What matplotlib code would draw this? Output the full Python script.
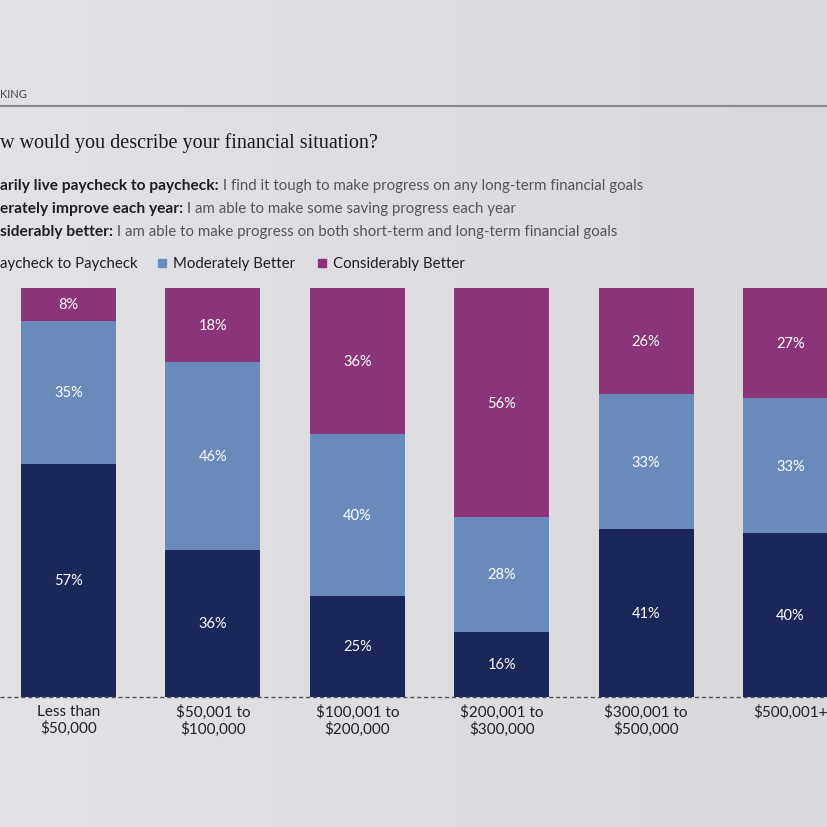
import matplotlib
matplotlib.use("Agg")
import matplotlib.pyplot as plt
import numpy as np
from matplotlib import font_manager as fm
from matplotlib.colors import LinearSegmentedColormap

# ---------------- data ----------------
categories = ["Less than\n$50,000", "$50,001 to\n$100,000", "$100,001 to\n$200,000",
              "$200,001 to\n$300,000", "$300,001 to\n$500,000", "$500,001+\n"]
series_names = ["Paycheck to Paycheck", "Moderately Better", "Considerably Better"]
paycheck = [57, 36, 25, 16, 41, 40]
moderately = [35, 46, 40, 28, 33, 33]
considerably = [8, 18, 36, 56, 26, 27]
colors = ["#1b2758", "#6a8bba", "#8c3479"]

title = "w would you describe your financial situation?"
kicker = "KING"
desc_bold = ["arily live paycheck to paycheck:", "erately improve each year:", "siderably better:"]
desc_text = [" I find it tough to make progress on any long-term financial goals",
             " I am able to make some saving progress each year",
             " I am able to make progress on both short-term and long-term financial goals"]
legend_first = "aycheck to Paycheck"

# ---------------- fonts ----------------
names = {f.name for f in fm.fontManager.ttflist}
narrow = "Liberation Sans Narrow" if "Liberation Sans Narrow" in names else "Lato"
sans = "Lato" if "Lato" in names else "DejaVu Sans"
serif = "Liberation Serif"

W = H = 828
fig = plt.figure(figsize=(8.28, 8.28), dpi=100)

# background gradient
bg = fig.add_axes([0, 0, 1, 1], zorder=-10)
grad = np.tile(np.linspace(0, 1, 200), (10, 1))
cmap = LinearSegmentedColormap.from_list("bg", ["#e2e2e6", "#d8d8dd"])
bg.imshow(grad, aspect="auto", cmap=cmap, extent=[0, 1, 0, 1])
bg.set_axis_off()

def fy(py):
    return 1 - py / H

# chart axes
cx0, dx = 68.5, 144.4
ax = fig.add_axes([0, fy(698), 1, (698 - 289) / H])
ax.set_xlim((0 - cx0) / dx, (W - cx0) / dx)
ax.set_ylim(0, 100)
ax.patch.set_alpha(0)
for s in ax.spines.values():
    s.set_visible(False)
ax.set_yticks([])

data = np.array([paycheck, moderately, considerably], dtype=float)
norm = data / data.sum(axis=0) * 100
x = np.arange(len(categories))
bw = 95 / dx
bottom = np.zeros(len(categories))
for i in range(3):
    ax.bar(x, norm[i], bw, bottom=bottom, color=colors[i], edgecolor="none", zorder=2)
    for j in range(len(categories)):
        ax.text(x[j], bottom[j] + norm[i][j] / 2, f"{int(data[i][j])}%", ha="center", va="center",
                color="white", fontsize=10.5, family=narrow, zorder=3)
    bottom += norm[i]

ax.axhline(0, color="#555558", lw=1.0, ls=(0, (3, 2)), zorder=4, clip_on=False)
ax.set_xticks(x)
ax.set_xticklabels(categories, fontsize=11, family=narrow, color="#222222", linespacing=1.15)
ax.tick_params(axis="x", length=0, pad=5)

# top rule
fig.add_artist(plt.Line2D([0, 1], [fy(107), fy(107)], color="#8a8a8e", lw=1.5))

fig.text(0, fy(94), kicker, fontsize=8, family=sans, color="#444444", va="center", ha="left")
fig.text(0, fy(143), title, fontsize=14.5, family=serif, color="#1a1a1e", va="center", ha="left",
         weight="medium")

ys = [186, 209, 232]
for b, t, yy in zip(desc_bold, desc_text, ys):
    tb = fig.text(0, fy(yy), b, fontsize=11.2, family=sans, weight="bold", color="#1e1e22",
                  va="center", ha="left")
    fig.add_artist(
        matplotlib.text.Annotation(t, xy=(1, 0.5), xycoords=tb, va="center", ha="left",
                                   fontsize=10.8, family=sans, color="#555558"))

# legend
fig.text(0, fy(264), legend_first, fontsize=10.8, family=sans, color="#1e1e22", va="center", ha="left")
leg = [(158, series_names[1], colors[1]), (318, series_names[2], colors[2])]
for px, name, c in leg:
    fig.add_artist(plt.Rectangle((px / W, fy(268)), 8 / W, 8 / H, color=c, transform=fig.transFigure))
    fig.text((px + 15) / W, fy(264), name, fontsize=10.8, family=sans, color="#1e1e22",
             va="center", ha="left")

fig.savefig("out.png", dpi=100)
